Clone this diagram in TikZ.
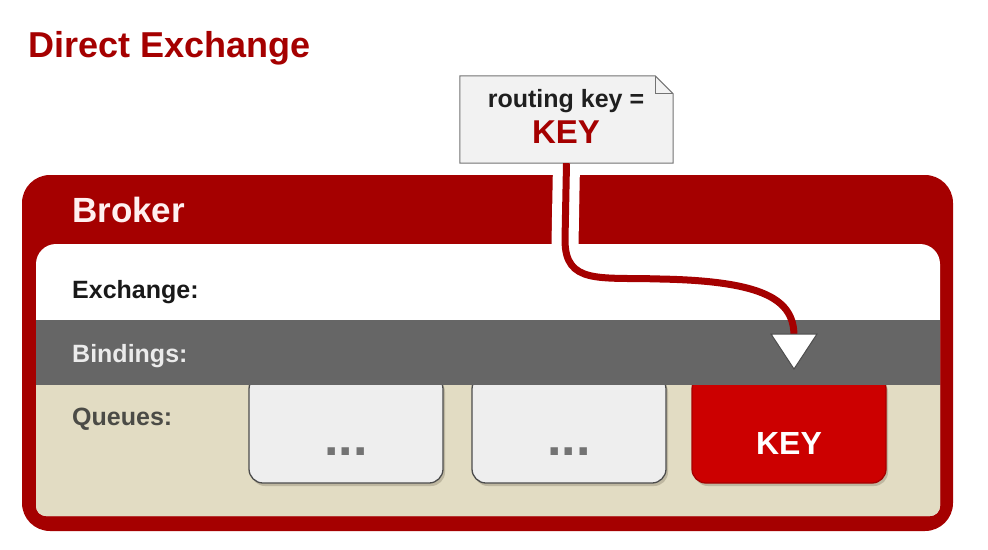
\documentclass[tikz,border=0pt]{standalone}
\usepackage{fontspec}
\setmainfont{Liberation Sans}
\usetikzlibrary{calc, positioning, shadows}

\definecolor{brokerred}{RGB}{165,0,0}
\definecolor{keyred}{RGB}{204,0,0}
\definecolor{bindgrey}{RGB}{102,102,102}
\definecolor{queuebeige}{RGB}{226,220,195}
\definecolor{shadebeige}{RGB}{190,183,160}
\definecolor{boxgrey}{RGB}{238,238,238}
\definecolor{notegrey}{RGB}{242,242,242}
\definecolor{labelgrey}{RGB}{75,75,70}

% font size given in pixels (1px = 1pt here)
\newcommand{\px}[1]{\fontsize{#1}{#1}\selectfont\bfseries}

\begin{document}
\begin{tikzpicture}[
    x=1pt, y=-1pt,
    row label/.style={anchor=base west, inner sep=0pt, font=\px{25}},
    queue box/.style={draw=black!70, line width=1.3pt, fill=boxgrey, rounded corners=14pt,
        minimum width=194pt, minimum height=108pt, inner sep=0pt,
        drop shadow={shadow xshift=2pt, shadow yshift=-3pt, fill=shadebeige, opacity=1}},
    key box/.style={queue box, draw=brokerred, fill=keyred},
    queue text/.style={anchor=base, inner sep=0pt},
    route/.style={brokerred, line width=7pt},
    route halo/.style={white, line width=27pt}
]
\useasboundingbox (0,0) rectangle (988,549);

% title
\node[anchor=base west, inner sep=0pt, font=\px{36}, text=brokerred] (title) at (28,57) {Direct Exchange};

% broker frame and inner panel
\fill[brokerred, rounded corners=28pt] (22,175) rectangle (953,531);
\node[anchor=base west, inner sep=0pt, font=\px{35}, text=white!94!red] (broker) at (72,222) {Broker};

\def\panelpath{(36,300) [rounded corners=20pt] -- (36,244) -- (940,244) -- (940,380)
    [rounded corners=10pt] -- (940,516) -- (36,516) -- (36,380) [sharp corners] -- cycle}
\fill[white] \panelpath;
\begin{scope}
    \clip \panelpath;
    \fill[queuebeige] (0,385) rectangle (988,549);

    % queues
    \node[queue box] (q1) at (346,429) {};
    \node[queue box] (q2) at (569,429) {};
    \node[key box]   (q3) at (789,429) {};
    \node[queue text, font=\px{52}, text=black!55] (q1text) at ($(q1.south)+(0,-28)$) {...};
    \node[queue text, font=\px{52}, text=black!55] (q2text) at ($(q2.south)+(0,-28)$) {...};
    \node[queue text, font=\px{32}, text=white] (q3text) at ($(q3.south)+(0,-29)$) {KEY};

    % bindings band
    \fill[bindgrey] (0,320) rectangle (988,385);
\end{scope}

\node[row label, text=black!90] (exlabel) at (72,298) {Exchange:};
\node[row label, text=black!8] (bindlabel) at (72,362) {Bindings:};
\node[row label, text=labelgrey] (queuelabel) at (72,425) {Queues:};

% message note
\node[minimum width=213pt, minimum height=87pt, inner sep=0pt] (note) at (566.5,119.5) {};
\draw[route halo] (note.south) -- (565,244);
\filldraw[fill=notegrey, draw=black!55, line width=1pt]
    (note.north west) -- ($(note.north east)+(-18,0)$) -- ($(note.north east)+(0,18)$)
    -- (note.south east) -- (note.south west) -- cycle;
\draw[black!55, line width=1pt] ($(note.north east)+(-18,0)$) |- ($(note.north east)+(0,18)$);
\node[anchor=base, inner sep=0pt, font=\px{25}, text=black!88] (rk) at (566,107) {routing key =};
\node[anchor=base, inner sep=0pt, font=\px{33}, text=brokerred] (rkval) at (566,143) {KEY};

% route into the binding
\coordinate (tiptop) at (794,336);
\draw[route] (note.south) -- (565,240) .. controls (565,285) and (600,277) .. (660,279)
    .. controls (765,281) and (794,300) .. (tiptop);
\filldraw[fill=white, draw=black!70, line width=1pt]
    ($(tiptop)+(-23,-2)$) -- ++(46,0) -- ++(-23,35) -- cycle;

\end{tikzpicture}
\end{document}
